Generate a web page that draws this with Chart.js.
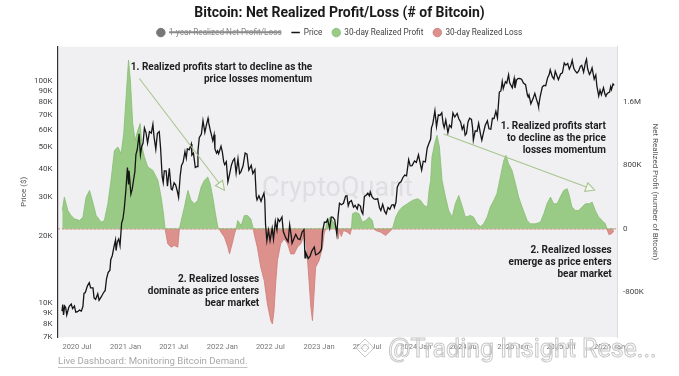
<!DOCTYPE html>
<html>
<head>
<meta charset="utf-8">
<script src="https://cdn.jsdelivr.net/npm/chart.js@4.4.1/dist/chart.umd.min.js"></script>
<style>
  html, body { margin: 0; padding: 0; background: #fff; }
</style>
</head>
<body>
<canvas id="netChart" width="679" height="376"></canvas>
<script>
// --- price ($), roughly weekly closes ---
const priceDates = [
  '2020-05-06','2020-05-09','2020-05-12','2020-05-16','2020-05-20','2020-05-24','2020-05-31','2020-06-03','2020-06-10','2020-06-15','2020-06-22','2020-06-27',
  '2020-07-04','2020-07-11','2020-07-18','2020-07-24','2020-07-28','2020-08-02','2020-08-10','2020-08-17','2020-08-22','2020-08-31','2020-09-04','2020-09-10','2020-09-18','2020-09-23',
  '2020-10-01','2020-10-09','2020-10-16','2020-10-21','2020-10-27','2020-11-03','2020-11-06','2020-11-12','2020-11-18','2020-11-24','2020-11-26','2020-12-01','2020-12-06','2020-12-11','2020-12-17','2020-12-22','2020-12-27',
  '2021-01-02','2021-01-08','2021-01-12','2021-01-14','2021-01-21','2021-01-26','2021-01-29','2021-02-05','2021-02-09','2021-02-14','2021-02-21','2021-02-26','2021-03-03','2021-03-08','2021-03-13','2021-03-19','2021-03-25',
  '2021-04-01','2021-04-08','2021-04-14','2021-04-18','2021-04-25','2021-05-01','2021-05-08','2021-05-13','2021-05-19','2021-05-23','2021-05-27','2021-06-03','2021-06-08','2021-06-15','2021-06-22','2021-06-26',
  '2021-07-03','2021-07-09','2021-07-15','2021-07-20','2021-07-26','2021-07-31','2021-08-06','2021-08-13','2021-08-18','2021-08-22','2021-08-29','2021-09-06','2021-09-08','2021-09-14','2021-09-21','2021-09-28',
  '2021-10-01','2021-10-06','2021-10-14','2021-10-20','2021-10-27','2021-11-02','2021-11-08','2021-11-10','2021-11-16','2021-11-22','2021-11-26','2021-12-01','2021-12-04','2021-12-10','2021-12-14','2021-12-18','2021-12-27',
  '2022-01-01','2022-01-06','2022-01-10','2022-01-16','2022-01-22','2022-01-28','2022-02-04','2022-02-10','2022-02-16','2022-02-22','2022-03-01','2022-03-07','2022-03-12','2022-03-20','2022-03-28',
  '2022-04-04','2022-04-11','2022-04-20','2022-04-26','2022-05-04','2022-05-09','2022-05-12','2022-05-19','2022-05-27','2022-06-01','2022-06-07','2022-06-10','2022-06-13','2022-06-18','2022-06-24','2022-06-30',
  '2022-07-08','2022-07-13','2022-07-20','2022-07-26','2022-07-30','2022-08-05','2022-08-14','2022-08-19','2022-08-28','2022-09-06','2022-09-12','2022-09-19','2022-09-21','2022-09-28',
  '2022-10-05','2022-10-13','2022-10-21','2022-10-29','2022-11-05','2022-11-09','2022-11-12','2022-11-21','2022-11-28','2022-12-05','2022-12-14','2022-12-19','2022-12-28',
  '2023-01-04','2023-01-10','2023-01-14','2023-01-21','2023-01-28','2023-02-02','2023-02-10','2023-02-16','2023-02-22','2023-03-01','2023-03-09','2023-03-14','2023-03-19','2023-03-26',
  '2023-04-03','2023-04-11','2023-04-16','2023-04-21','2023-04-26','2023-05-03','2023-05-11','2023-05-17','2023-05-25','2023-05-29','2023-06-06','2023-06-10','2023-06-15','2023-06-21','2023-06-26',
  '2023-07-04','2023-07-10','2023-07-13','2023-07-20','2023-07-27','2023-08-03','2023-08-10','2023-08-17','2023-08-22','2023-08-29','2023-09-05','2023-09-11','2023-09-18','2023-09-25',
  '2023-10-02','2023-10-09','2023-10-12','2023-10-18','2023-10-23','2023-10-30','2023-11-06','2023-11-13','2023-11-20','2023-11-27','2023-12-05','2023-12-11','2023-12-18','2023-12-27',
  '2024-01-03','2024-01-11','2024-01-17','2024-01-23','2024-01-29','2024-02-06','2024-02-13','2024-02-20','2024-02-26','2024-02-29','2024-03-05','2024-03-13','2024-03-19','2024-03-26',
  '2024-04-01','2024-04-08','2024-04-13','2024-04-17','2024-04-23','2024-05-01','2024-05-07','2024-05-14','2024-05-20','2024-05-27','2024-06-05','2024-06-11','2024-06-18','2024-06-24','2024-06-30',
  '2024-07-05','2024-07-10','2024-07-16','2024-07-22','2024-07-29','2024-08-02','2024-08-05','2024-08-12','2024-08-19','2024-08-25','2024-09-01','2024-09-06','2024-09-12','2024-09-19','2024-09-27',
  '2024-10-03','2024-10-10','2024-10-16','2024-10-22','2024-10-29','2024-11-04','2024-11-11','2024-11-17','2024-11-22','2024-11-26','2024-12-04','2024-12-09','2024-12-16','2024-12-20','2024-12-30',
  '2025-01-06','2025-01-09','2025-01-15','2025-01-20','2025-01-27','2025-02-03','2025-02-10','2025-02-18','2025-02-25','2025-02-28','2025-03-03','2025-03-10','2025-03-18','2025-03-25','2025-03-31',
  '2025-04-06','2025-04-08','2025-04-14','2025-04-22','2025-04-28','2025-05-05','2025-05-12','2025-05-18','2025-05-22','2025-05-30','2025-06-05','2025-06-10','2025-06-17','2025-06-22','2025-06-30',
  '2025-07-07','2025-07-14','2025-07-20','2025-07-27','2025-08-02','2025-08-08','2025-08-13','2025-08-19','2025-08-25','2025-08-31','2025-09-06','2025-09-13','2025-09-18','2025-09-25',
  '2025-10-02','2025-10-06','2025-10-10','2025-10-17','2025-10-21','2025-10-27','2025-11-04','2025-11-10','2025-11-14','2025-11-21','2025-11-26','2025-12-01','2025-12-09','2025-12-15','2025-12-18','2025-12-24','2026-01-01','2026-01-05','2026-01-08','2026-01-14','2026-01-18'
];
const priceUsd = [
  9150,9800,8800,9650,9500,8800,9450,9650,9850,9400,9650,9050,
  9100,9250,9150,9600,11000,11100,11900,12300,11650,11650,10500,10350,10950,10250,
  10600,11050,11350,12800,13650,14000,15600,16300,17800,19150,17150,18800,19350,18050,22800,23800,26500,
  32000,40600,34000,39200,30800,32400,34300,38900,46400,48900,57500,46300,50500,52300,61200,58300,52300,
  58800,58000,63500,56200,49000,57800,58900,49700,37000,34700,39200,39200,33400,40200,32500,32200,
  34600,33800,31800,29800,37200,41500,42800,47800,44700,49300,48800,51800,46100,47100,40600,41000,
  48200,55300,57400,65900,58400,63200,67500,65000,60100,56200,53600,57000,49200,47100,48300,46800,50600,
  47700,43100,41800,43100,35000,37700,41500,43500,44500,38300,44400,38100,38800,41200,47100,
  46600,39500,41500,38100,39700,30100,29000,30300,28600,29800,31100,29100,22500,19000,21200,19000,
  21600,19300,23200,21200,23800,23200,24300,20900,19600,18800,22400,19500,18500,19400,
  20300,19400,19200,20800,21300,15900,16800,15800,16200,17100,17800,16400,16600,
  16900,17400,20900,23000,23000,23700,21600,24300,24200,23600,20300,24700,28000,27600,
  28000,30200,30300,27300,28400,28800,26900,27400,26400,27700,27200,25800,25100,30100,30300,
  31100,30200,31500,29900,29300,29200,29400,26700,26000,27700,25800,25100,26800,26300,
  27500,27600,26800,28300,33100,34500,35000,36500,37500,37200,44000,41300,41400,43400,
  42800,46300,42700,39500,43300,43000,49700,52300,54500,61200,63800,73100,62000,70000,
  69600,71600,64000,61300,66400,58200,62900,61500,71400,68500,71100,67300,65100,60300,62700,
  56700,57700,65100,67600,66800,61400,54000,59400,59000,64200,57300,53900,58100,62900,65800,
  60600,60300,67600,67400,72700,67800,88700,89800,98900,91900,98800,97400,106100,97700,92800,
  102100,92500,100500,102000,102100,101400,97400,95800,86000,84300,86200,78500,82700,87500,82500,
  78300,76300,84500,93400,95000,94800,102800,106400,111700,104000,101600,110200,104600,100900,107100,
  108200,119800,117300,119400,112500,116700,123300,113500,110100,108200,110200,115900,117100,109000,
  120600,124700,113200,106500,108500,114100,101500,105900,94500,85100,90500,86300,92700,86400,85500,87600,88700,93800,91000,96500,95000
];

// --- 30-day net realized profit/loss, thousands of BTC ---
const netDates = [
  '2020-05-07','2020-05-15','2020-05-28','2020-06-09','2020-06-22','2020-07-11','2020-07-24','2020-08-05','2020-08-18','2020-08-30','2020-09-12','2020-10-01','2020-10-13','2020-10-26','2020-11-07','2020-11-20','2020-12-03','2020-12-15','2020-12-25',
  '2021-01-03','2021-01-12','2021-01-19','2021-01-28','2021-02-06','2021-02-16','2021-02-25','2021-03-04','2021-03-13','2021-03-26','2021-04-14','2021-05-03','2021-05-15','2021-05-24','2021-05-30','2021-06-09','2021-06-22',
  '2021-07-04','2021-07-17','2021-07-23','2021-07-30','2021-08-11','2021-08-24','2021-09-05','2021-09-18','2021-09-30','2021-10-13','2021-10-25','2021-11-07','2021-11-16','2021-11-26','2021-12-06','2021-12-15','2021-12-21','2021-12-27',
  '2022-01-09','2022-01-22','2022-01-28','2022-02-07','2022-02-16','2022-02-22','2022-02-28','2022-03-13','2022-03-25','2022-04-06','2022-04-18','2022-04-25','2022-04-28','2022-05-01','2022-05-13','2022-05-26','2022-06-08','2022-06-20',
  '2022-07-03','2022-07-09','2022-07-15','2022-07-22','2022-07-28','2022-08-09','2022-08-22','2022-09-04','2022-09-16','2022-09-29','2022-10-11','2022-10-24','2022-11-03','2022-11-08','2022-11-15','2022-11-24','2022-12-01','2022-12-07','2022-12-13','2022-12-19',
  '2023-01-01','2023-01-14','2023-01-20','2023-01-26','2023-02-01','2023-02-11','2023-02-20','2023-03-01','2023-03-09','2023-03-14','2023-03-19','2023-03-26','2023-04-03','2023-04-18','2023-04-28','2023-05-03','2023-05-07','2023-05-19','2023-06-01','2023-06-13','2023-06-26',
  '2023-07-09','2023-07-21','2023-07-27','2023-08-03','2023-08-22','2023-09-09','2023-09-22','2023-10-05','2023-10-17','2023-10-30','2023-11-11','2023-11-30','2023-12-19',
  '2024-01-07','2024-01-19','2024-02-01','2024-02-14','2024-02-20','2024-02-26','2024-03-02','2024-03-12','2024-03-21','2024-03-30','2024-04-09','2024-04-22','2024-05-04','2024-05-17','2024-05-29','2024-06-11','2024-06-23',
  '2024-07-06','2024-07-25','2024-08-06','2024-08-19','2024-09-01','2024-09-13','2024-09-26','2024-10-08','2024-10-21','2024-11-02','2024-11-15','2024-11-28','2024-12-06','2024-12-16','2024-12-29',
  '2025-01-11','2025-01-23','2025-02-05','2025-02-24','2025-03-08','2025-03-27','2025-04-15','2025-04-28','2025-05-10','2025-05-23','2025-06-04','2025-06-17','2025-06-29',
  '2025-07-12','2025-07-25','2025-08-02','2025-08-12','2025-08-25','2025-09-07','2025-09-19','2025-10-02','2025-10-17','2025-10-27','2025-11-08','2025-11-21','2025-12-04','2025-12-16','2025-12-22','2025-12-29','2026-01-08','2026-01-17'
];
const netK = [
  231,399,231,168,126,105,147,399,483,336,168,84,105,315,609,987,1029,945,1197,
  1659,2121,1869,1323,1113,1239,1323,1029,903,777,735,609,399,189,0,-189,-231,
  -210,-231,0,105,273,483,357,315,357,525,609,651,567,399,189,21,0,-42,
  -105,-231,-315,-189,-63,0,105,42,168,168,126,42,0,-63,-231,-483,-651,-945,
  -1155,-1197,-1029,-651,-399,-189,-126,-189,-315,-315,-231,-189,-105,-63,-231,-651,-987,-1155,-819,-483,
  -399,-231,-63,0,105,147,105,63,0,-126,-21,-97,-21,-42,-71,0,189,210,189,84,105,
  147,105,0,-21,-42,-84,-42,0,147,231,273,315,357,
  378,357,294,273,483,609,903,1071,1176,1029,609,399,231,147,315,420,294,
  147,168,147,63,29,63,147,273,357,441,651,861,924,819,735,
  567,399,273,105,63,63,84,189,315,399,315,315,399,
  483,504,420,273,231,231,273,315,315,336,231,147,105,63,0,-71,-63,-29
];

const priceTicks = [7000, 8000, 9000, 10000, 20000, 30000, 40000, 50000, 60000, 70000, 80000, 90000, 100000];
const netTicks = [-800, 0, 800, 1600];
const xTickDates = ['2020-07-01','2021-01-01','2021-07-01','2022-01-01','2022-07-01','2023-01-01','2023-07-01','2024-01-01','2024-07-01','2025-01-01','2025-07-01','2026-01-01'];
const xTickLabels = ['2020 Jul','2021 Jan','2021 Jul','2022 Jan','2022 Jul','2023 Jan','2023 Jul','2024 Jan','2024 Jul','2025 Jan','2025 Jul','2026 Jan'];

// annotations: right edge date + net value (K BTC) of first line
const noteLines = [
  ['1. Realized profits start to decline as the', 'price losses momentum'],
  ['2. Realized losses', 'dominate as price enters', 'bear market'],
  ['1. Realized profits start', 'to decline as the price', 'losses momentum'],
  ['2. Realized losses', 'emerge as price enters', 'bear market']
];
const noteAnchors = [['2022-12-06', 2034], ['2022-05-20', -634], ['2025-12-18', 1286], ['2026-01-09', -274]];
const arrowFrom = [['2021-02-22', 1890], ['2024-04-15', 1191]];
const arrowTo = [['2022-01-09', 486], ['2025-11-06', 486]];

const day = s => Date.UTC(+s.slice(0, 4), +s.slice(5, 7) - 1, +s.slice(8, 10)) / 864e5;

const pricePts = priceDates.map((d, i) => ({ x: day(d), y: priceUsd[i] }));
const profitPts = netDates.map((d, i) => ({ x: day(d), y: Math.max(netK[i], 0) }));
const lossPts = netDates.map((d, i) => ({ x: day(d), y: Math.min(netK[i], 0) }));

function drawArrow(ctx, x1, y1, x2, y2) {
    const ang = Math.atan2(y2 - y1, x2 - x1);
    const len = 9, half = 4.5;
    const bx = x2 - len * Math.cos(ang), by = y2 - len * Math.sin(ang);
    ctx.beginPath();
    ctx.moveTo(x1, y1);
    ctx.lineTo(bx, by);
    ctx.stroke();
    ctx.beginPath();
    ctx.moveTo(x2, y2);
    ctx.lineTo(bx + half * Math.sin(ang), by - half * Math.cos(ang));
    ctx.lineTo(bx - half * Math.sin(ang), by + half * Math.cos(ang));
    ctx.closePath();
    ctx.fill();
    ctx.stroke();
}

const chartDecor = {
    id: 'chartDecor',
    beforeDraw(chart) {
        const { ctx, chartArea: a } = chart;
        ctx.save();
        ctx.fillStyle = '#f0f0f2';
        ctx.fillRect(a.left, a.top, a.right - a.left, a.bottom - a.top);
        ctx.restore();
    },
    beforeDatasetsDraw(chart) {
        const { ctx, chartArea: a, scales } = chart;
        ctx.save();
        ctx.font = '27px Roboto';
        ctx.fillStyle = 'rgba(130,130,140,0.15)';
        ctx.textAlign = 'center';
        ctx.textBaseline = 'middle';
        ctx.fillText('CryptoQuant', (a.left + a.right) / 2, (a.top + a.bottom) / 2 - 3);
        // zero line of the profit/loss axis
        const y0 = scales.y1.getPixelForValue(0);
        ctx.strokeStyle = '#c4928d';
        ctx.lineWidth = 1;
        ctx.setLineDash([2, 2]);
        ctx.beginPath();
        ctx.moveTo(a.left, y0);
        ctx.lineTo(a.right, y0);
        ctx.stroke();
        ctx.restore();
    },
    afterDatasetsDraw(chart) {
        const { ctx, scales } = chart;
        const sx = scales.x, sy = scales.y1;
        ctx.save();
        ctx.strokeStyle = '#a8c58f';
        ctx.fillStyle = '#f3f6ef';
        ctx.lineWidth = 1.1;
        arrowFrom.forEach((p, i) => {
            drawArrow(ctx,
                sx.getPixelForValue(day(p[0])), sy.getPixelForValue(p[1]),
                sx.getPixelForValue(day(arrowTo[i][0])), sy.getPixelForValue(arrowTo[i][1]));
        });
        ctx.font = 'bold 10px Roboto';
        ctx.fillStyle = '#1e1e1e';
        ctx.textAlign = 'right';
        ctx.textBaseline = 'middle';
        noteLines.forEach((lines, i) => {
            const x = sx.getPixelForValue(day(noteAnchors[i][0]));
            const y = sy.getPixelForValue(noteAnchors[i][1]);
            lines.forEach((t, k) => ctx.fillText(t, x, y + k * 12));
        });
        ctx.restore();
    },
    afterDraw(chart) {
        const { ctx, chartArea: a } = chart;
        ctx.save();
        // dashboard link
        ctx.font = '9.6px Roboto';
        ctx.fillStyle = '#a8a8a8';
        ctx.textAlign = 'left';
        ctx.textBaseline = 'middle';
        const link = 'Live Dashboard: Monitoring Bitcoin Demand.';
        ctx.fillText(link, a.left, 362);
        const w = ctx.measureText(link).width;
        ctx.strokeStyle = '#b5b5b5';
        ctx.lineWidth = 0.8;
        ctx.beginPath();
        ctx.moveTo(a.left, 367.5);
        ctx.lineTo(a.left + w, 367.5);
        ctx.stroke();
        // repost watermark
        ctx.lineWidth = 1;
        ctx.strokeStyle = 'rgba(175,175,175,0.7)';
        ctx.fillStyle = 'rgba(255,255,255,0.75)';
        ctx.beginPath();
        ctx.moveTo(365, 339); ctx.lineTo(374, 348); ctx.lineTo(365, 357); ctx.lineTo(356, 348); ctx.closePath();
        ctx.fill(); ctx.stroke();
        ctx.beginPath();
        ctx.moveTo(365, 344); ctx.lineTo(369, 348); ctx.lineTo(365, 352); ctx.lineTo(361, 348); ctx.closePath();
        ctx.stroke();
        ctx.font = '25px Roboto';
        ctx.textBaseline = 'alphabetic';
        ctx.fillText('@Trading Insight Rese...', 388, 357);
        ctx.strokeText('@Trading Insight Rese...', 388, 357);
        ctx.restore();
    }
};

Chart.defaults.font.family = 'Roboto, "Noto Sans", sans-serif';

new Chart(document.getElementById('netChart'), {
    type: 'line',
    plugins: [chartDecor],
    data: {
        datasets: [
            {
                label: '1-year Realized Net Profit/Loss',
                data: [],
                hidden: true,
                yAxisID: 'y1',
                borderColor: '#777',
                backgroundColor: '#777'
            },
            {
                label: 'Price',
                data: pricePts,
                yAxisID: 'y',
                borderColor: '#151515',
                backgroundColor: '#151515',
                borderWidth: 1.3,
                pointRadius: 0,
                pointStyle: 'line',
                pointBorderWidth: 1.5,
                tension: 0
            },
            {
                label: '30-day Realized Profit',
                data: profitPts,
                yAxisID: 'y1',
                borderColor: '#86bd71',
                backgroundColor: '#99cb86',
                borderWidth: 0.8,
                pointRadius: 0,
                fill: 'origin',
                tension: 0
            },
            {
                label: '30-day Realized Loss',
                data: lossPts,
                yAxisID: 'y1',
                borderColor: '#cf7a76',
                backgroundColor: '#dc918d',
                borderWidth: 0.8,
                pointRadius: 0,
                fill: 'origin',
                tension: 0
            }
        ]
    },
    options: {
        responsive: false,
        animation: false,
        layout: { padding: 0 },
        plugins: {
            title: {
                display: true,
                text: 'Bitcoin: Net Realized Profit/Loss (# of Bitcoin)',
                color: '#1a1a1a',
                font: { size: 14, weight: 'bold' },
                padding: { top: 5, bottom: -3.3 }
            },
            legend: {
                labels: {
                    usePointStyle: true,
                    boxWidth: 8,
                    boxHeight: 6,
                    padding: 10,
                    color: '#444',
                    font: { size: 8.2 },
                    generateLabels(chart) {
                        const items = Chart.defaults.plugins.legend.labels.generateLabels(chart);
                        items.forEach(it => {
                            if (it.hidden) it.fontColor = '#8a8a8a';
                        });
                        return items;
                    }
                },
                onClick: null
            },
            tooltip: { enabled: false }
        },
        scales: {
            x: {
                type: 'linear',
                min: day('2020-04-21'),
                max: day('2026-01-29'),
                afterBuildTicks: s => { s.ticks = xTickDates.map(d => ({ value: day(d) })); },
                afterFit: s => { s.height = 39; },
                ticks: {
                    autoSkip: false,
                    maxRotation: 0,
                    padding: 5.5,
                    color: '#777',
                    font: { size: 7.5 },
                    callback: (v, i) => xTickLabels[i]
                },
                grid: { display: false, drawTicks: false },
                border: { display: false }
            },
            y: {
                type: 'logarithmic',
                position: 'left',
                min: 7000,
                max: 142000,
                afterBuildTicks: s => { s.ticks = priceTicks.map(v => ({ value: v })); },
                afterFit: s => { s.width = 58; },
                ticks: {
                    padding: 5.5,
                    color: '#444',
                    font: { size: 8 },
                    callback: v => (v / 1000) + 'K'
                },
                title: {
                    display: true,
                    text: 'Price ($)',
                    color: '#555',
                    font: { size: 8 },
                    padding: { top: 19.2, bottom: 0 }
                },
                grid: { display: false, drawTicks: false },
                border: { display: true, color: '#333', width: 1.2 }
            },
            y1: {
                type: 'linear',
                position: 'right',
                min: -1360,
                max: 2290,
                afterBuildTicks: s => { s.ticks = netTicks.map(v => ({ value: v })); },
                afterFit: s => { s.width = 62; },
                ticks: {
                    padding: 6,
                    color: '#444',
                    font: { size: 8 },
                    callback: v => v === 0 ? '0' : (Math.abs(v) >= 1000 ? (v / 1000) + 'M' : v + 'K')
                },
                title: {
                    display: true,
                    text: 'Net Realized Profit (number of Bitcoin)',
                    color: '#555',
                    font: { size: 8 },
                    padding: { top: 19.2, bottom: 0 }
                },
                grid: { display: false, drawTicks: false },
                border: { display: true, color: '#dcdcdc', width: 1 }
            }
        }
    }
});
</script>
</body>
</html>
